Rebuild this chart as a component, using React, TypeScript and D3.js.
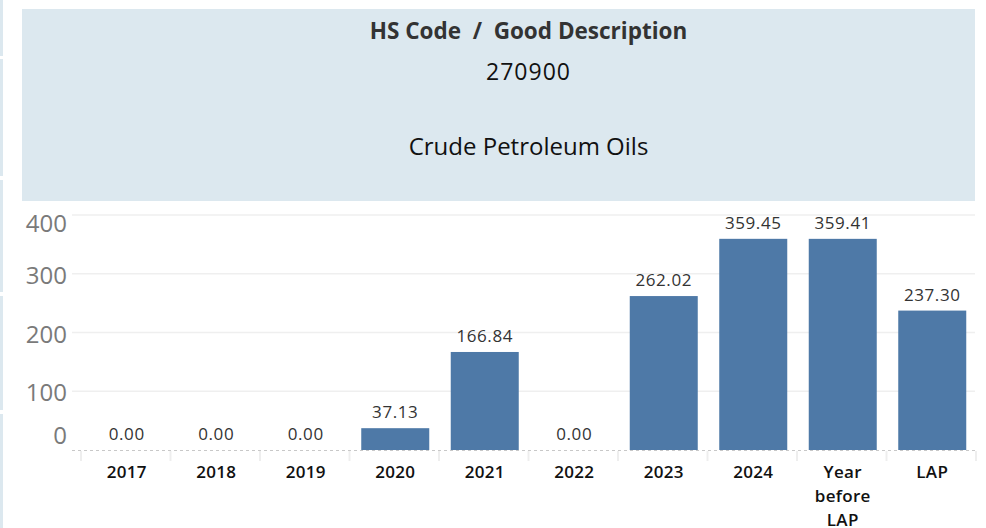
import React, { useEffect, useRef } from 'react'
import * as d3 from 'd3'

const categories = ['2017', '2018', '2019', '2020', '2021', '2022', '2023', '2024', 'Year before LAP', 'LAP']
const values = [0, 0, 0, 37.13, 166.84, 0, 262.02, 359.45, 359.41, 237.3]
const yTicks = [0, 100, 200, 300, 400]

const headerTitle = 'HS Code / Good Description'
const headerCode = '270900'
const headerDesc = 'Crude Petroleum Oils'

const W = 986
const H = 528
const font = '"Open Sans", sans-serif'

const App = () => {
  const ref = useRef<SVGSVGElement | null>(null)

  useEffect(() => {
    if (!ref.current) return
    const svg = d3.select(ref.current)
    svg.selectAll('*').remove()

    // left edge strip (other dashboard panes)
    const strips = [[0, 56], [59, 176], [180, 292], [296, 410], [414, 528]]
    svg.selectAll('.strip')
      .data(strips)
      .enter()
      .append('rect')
      .attr('x', 0)
      .attr('y', d => d[0])
      .attr('width', 3)
      .attr('height', d => d[1] - d[0])
      .attr('fill', '#dce8ef')

    const x = d3.scaleBand()
      .domain(categories)
      .range([81, 976])
      .padding(0)

    const y = d3.scaleLinear()
      .domain([0, 400])
      .range([450, 215])

    // header
    svg.append('rect')
      .attr('x', 22).attr('y', 9)
      .attr('width', 953).attr('height', 192)
      .attr('fill', '#dce8ef')

    const cx = (x.range()[0] + x.range()[1]) / 2
    svg.append('text')
      .attr('x', cx).attr('y', 39)
      .attr('text-anchor', 'middle')
      .attr('xml:space', 'preserve')
      .style('font-family', font)
      .style('font-size', '22.5px')
      .style('font-weight', 'bold')
      .attr('fill', '#333')
      .text(headerTitle.replace(' / ', '  /  '))
    svg.append('text')
      .attr('x', cx).attr('y', 80)
      .attr('text-anchor', 'middle')
      .style('font-family', font)
      .style('font-size', '23px')
      .style('letter-spacing', '1px')
      .attr('fill', '#111')
      .text(headerCode)
    svg.append('text')
      .attr('x', cx).attr('y', 155)
      .attr('text-anchor', 'middle')
      .style('font-family', font)
      .style('font-size', '24px')
      .attr('fill', '#111')
      .text(headerDesc)

    // gridlines
    svg.selectAll('.grid')
      .data(yTicks.filter(t => t > 0))
      .enter()
      .append('line')
      .attr('x1', 72).attr('x2', 975)
      .attr('y1', d => y(d)).attr('y2', d => y(d))
      .attr('stroke', '#efefef')
      .attr('stroke-width', 1.5)

    // y labels
    svg.selectAll('.ylab')
      .data(yTicks)
      .enter()
      .append('text')
      .attr('x', 67)
      .attr('y', d => Math.min(435, Math.max(223, y(d) + 1.5)))
      .attr('dy', '0.36em')
      .attr('text-anchor', 'end')
      .style('font-family', font)
      .style('font-size', '24px')
      .attr('fill', '#7a7a7a')
      .text(d => d)

    // bars
    const bw = 68
    svg.selectAll('.bar')
      .data(values)
      .enter()
      .append('rect')
      .attr('x', (d, i) => (x(categories[i]) as number) + (x.bandwidth() - bw) / 2 + 1)
      .attr('y', d => y(d))
      .attr('width', bw)
      .attr('height', d => y(0) - y(d))
      .attr('fill', '#4e79a7')

    // value labels
    svg.selectAll('.val')
      .data(values)
      .enter()
      .append('text')
      .attr('x', (d, i) => (x(categories[i]) as number) + x.bandwidth() / 2 + 1)
      .attr('y', d => y(d) - 10)
      .attr('text-anchor', 'middle')
      .style('font-family', font)
      .style('font-size', '17px')
      .style('letter-spacing', '0.6px')
      .attr('fill', '#333')
      .text(d => d.toFixed(2))

    // baseline + column separators
    svg.append('line')
      .attr('x1', 72).attr('x2', 975)
      .attr('y1', 450.5).attr('y2', 450.5)
      .attr('stroke', '#c8c8c8')
      .attr('stroke-dasharray', '3,3')
    svg.selectAll('.sep')
      .data(categories)
      .enter()
      .append('line')
      .attr('x1', d => x(d) as number)
      .attr('x2', d => x(d) as number)
      .attr('y1', 451).attr('y2', 461)
      .attr('stroke', '#eeeeee')
      .attr('stroke-width', 2)
    svg.append('line')
      .attr('x1', 976).attr('x2', 976)
      .attr('y1', 451).attr('y2', 461)
      .attr('stroke', '#eeeeee')
      .attr('stroke-width', 2)

    // x labels
    const xl = svg.selectAll('.xlab')
      .data(categories)
      .enter()
      .append('text')
      .attr('text-anchor', 'middle')
      .style('font-family', font)
      .style('font-size', '17px')
      .style('font-weight', 600)
      .style('letter-spacing', '0.3px')
      .attr('fill', '#111')
    xl.each(function (d) {
      const t = d3.select(this)
      d.split(' ').forEach((w, i) => {
        t.append('tspan')
          .attr('x', (x(d) as number) + x.bandwidth() / 2 + 1)
          .attr('y', 478 + i * 24)
          .text(w)
      })
    })
  }, [])

  return (
    <div style={{ position: 'absolute', left: 0, top: 0 }}>
      <svg ref={ref} width={W} height={H} style={{ display: 'block', background: '#fff' }} />
    </div>
  )
}

export default App
